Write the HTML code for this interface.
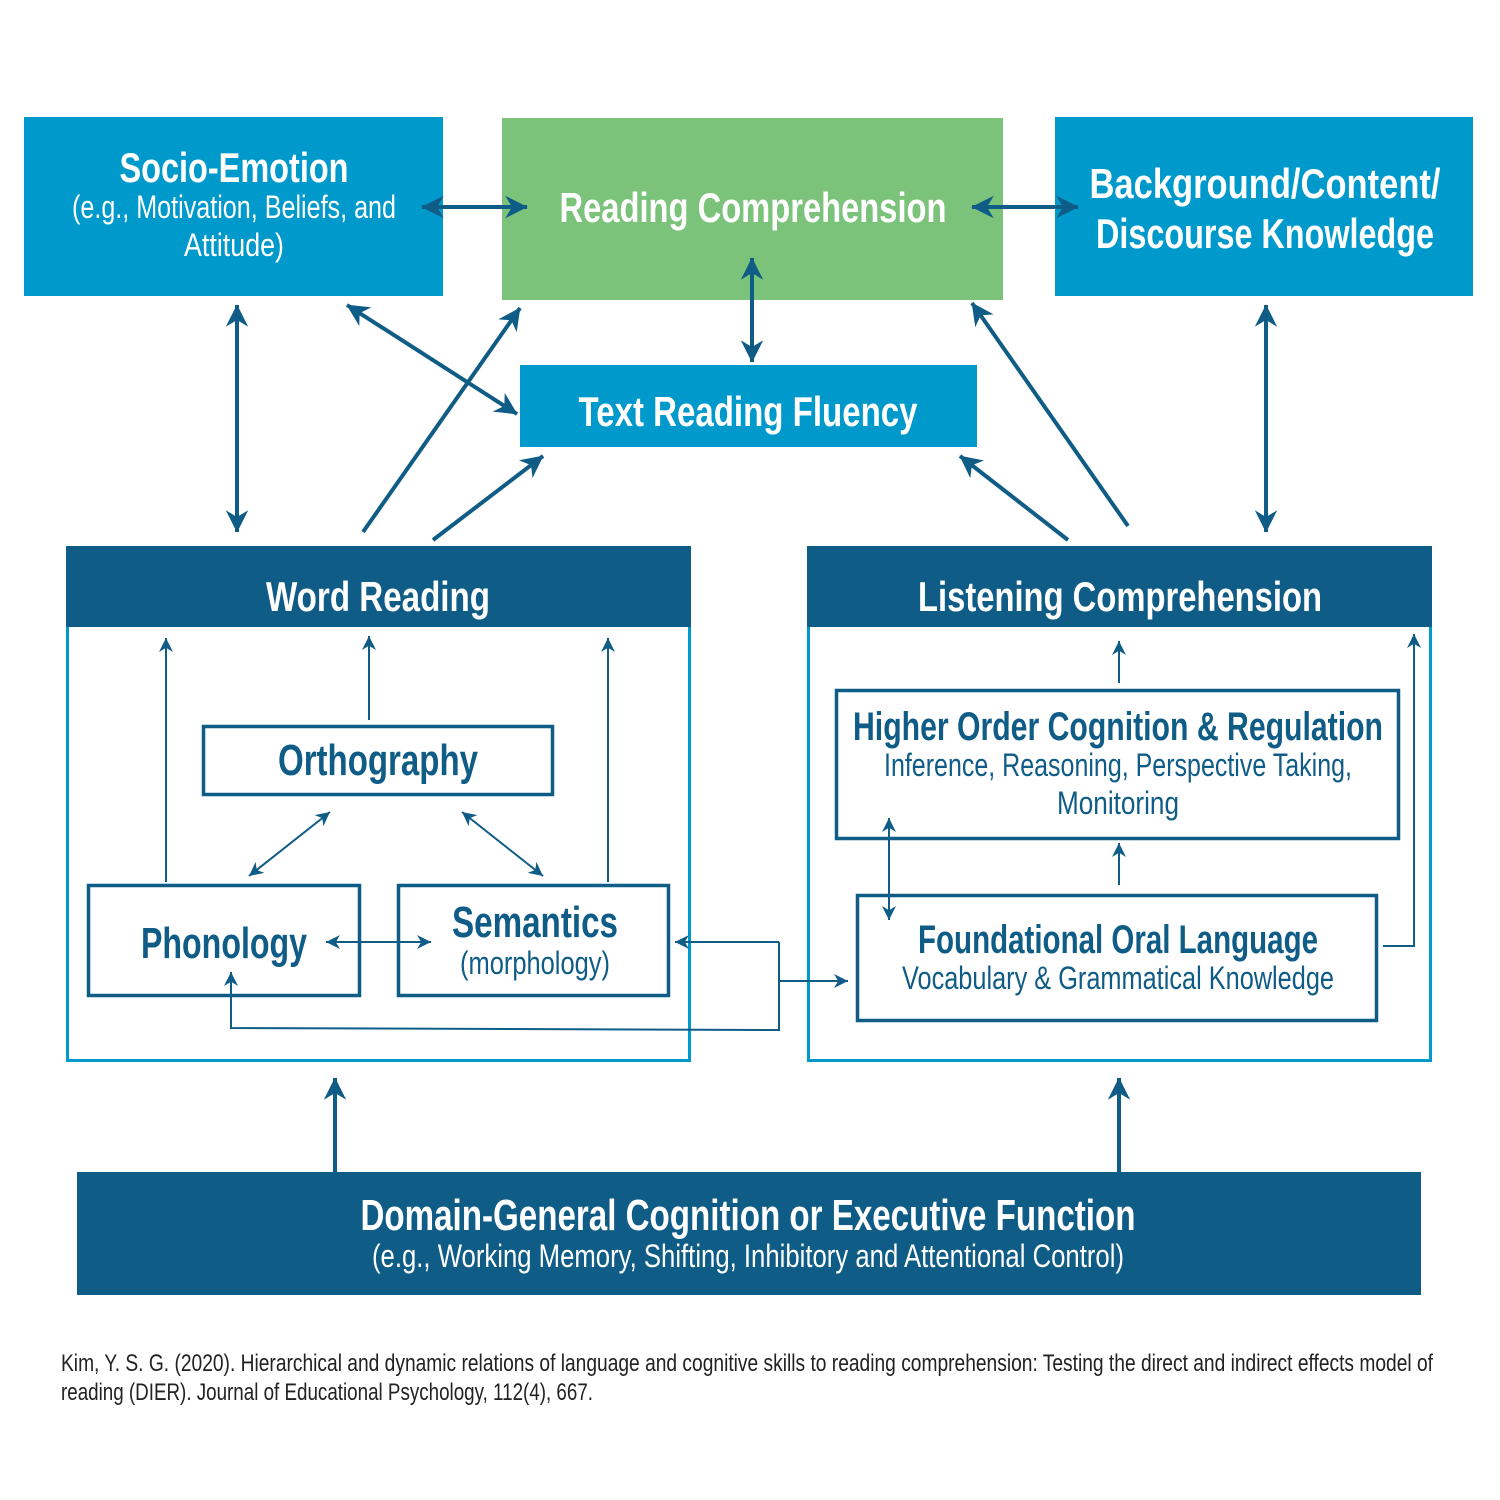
<!DOCTYPE html>
<html><head><meta charset="utf-8"><style>
html,body{margin:0;padding:0;background:#fff}
svg{display:block}
text{font-family:"Liberation Sans Narrow","Liberation Sans",sans-serif}
</style></head><body>
<svg width="1500" height="1500" viewBox="0 0 1500 1500" xmlns="http://www.w3.org/2000/svg">
<defs>
<marker id="A" viewBox="0 0 10 10" refX="9" refY="5" markerWidth="7" markerHeight="7" markerUnits="userSpaceOnUse" orient="auto-start-reverse" style="overflow:visible"><path d="M0,0 L10,5 L0,10 L3,5 z" fill="#0f5c87" transform="scale(3.2) translate(-6.9,-3.44)"/></marker>
<marker id="B" viewBox="0 0 10 10" refX="10" refY="5" markerWidth="14" markerHeight="14" markerUnits="userSpaceOnUse" orient="auto-start-reverse"><path d="M0,0 L10,5 L0,10 L3,5 z" fill="#0f5c87"/></marker>
</defs>
<g fill="#0099cc">
<rect x="24" y="117" width="419" height="179"/>
<rect x="1055" y="117" width="418" height="179"/>
<rect x="520" y="365" width="457" height="82"/>
</g>
<rect x="502" y="118" width="501" height="182" fill="#7bc27a"/>
<g fill="#fff">
<text x="234" y="182" font-size="42" font-weight="bold" text-anchor="middle" textLength="229" lengthAdjust="spacingAndGlyphs">Socio-Emotion</text>
<text x="234" y="218" font-size="32" text-anchor="middle" textLength="324" lengthAdjust="spacingAndGlyphs">(e.g., Motivation, Beliefs, and</text>
<text x="234" y="256" font-size="32" text-anchor="middle" textLength="100" lengthAdjust="spacingAndGlyphs">Attitude)</text>
<text x="753" y="222" font-size="42" font-weight="bold" text-anchor="middle" textLength="387" lengthAdjust="spacingAndGlyphs">Reading Comprehension</text>
<text x="1265" y="198" font-size="42" font-weight="bold" text-anchor="middle" textLength="351" lengthAdjust="spacingAndGlyphs">Background/Content/</text>
<text x="1265" y="248" font-size="42" font-weight="bold" text-anchor="middle" textLength="338" lengthAdjust="spacingAndGlyphs">Discourse Knowledge</text>
<text x="748" y="426" font-size="42" font-weight="bold" text-anchor="middle" textLength="339" lengthAdjust="spacingAndGlyphs">Text Reading Fluency</text>
</g>
<!-- Word Reading -->
<rect x="67.5" y="547.5" width="622" height="513" fill="none" stroke="#0099cc" stroke-width="3"/>
<rect x="66" y="546" width="625" height="81" fill="#0f5c87"/>
<text x="378" y="611" font-size="42" font-weight="bold" fill="#fff" text-anchor="middle" textLength="224" lengthAdjust="spacingAndGlyphs">Word Reading</text>
<rect x="808.5" y="547.5" width="622" height="513" fill="none" stroke="#0099cc" stroke-width="3"/>
<rect x="807" y="546" width="625" height="81" fill="#0f5c87"/>
<text x="1120" y="611" font-size="42" font-weight="bold" fill="#fff" text-anchor="middle" textLength="404" lengthAdjust="spacingAndGlyphs">Listening Comprehension</text>
<g fill="none" stroke="#0f5c87" stroke-width="3.5">
<rect x="203.5" y="726.5" width="349" height="68"/>
<rect x="88.5" y="885.5" width="271" height="110"/>
<rect x="398.5" y="885.5" width="270" height="110"/>
<rect x="836.5" y="690.5" width="562" height="148"/>
<rect x="857.5" y="895.5" width="519" height="125"/>
</g>
<g fill="#0f5c87">
<text x="378" y="775" font-size="44" font-weight="bold" text-anchor="middle" textLength="200" lengthAdjust="spacingAndGlyphs">Orthography</text>
<text x="224" y="958" font-size="44" font-weight="bold" text-anchor="middle" textLength="166" lengthAdjust="spacingAndGlyphs">Phonology</text>
<text x="535" y="937" font-size="44" font-weight="bold" text-anchor="middle" textLength="166" lengthAdjust="spacingAndGlyphs">Semantics</text>
<text x="535" y="974" font-size="32" text-anchor="middle" textLength="150" lengthAdjust="spacingAndGlyphs">(morphology)</text>
<text x="1118" y="740" font-size="40" font-weight="bold" text-anchor="middle" textLength="530" lengthAdjust="spacingAndGlyphs">Higher Order Cognition &amp; Regulation</text>
<text x="1118" y="776" font-size="32" text-anchor="middle" textLength="468" lengthAdjust="spacingAndGlyphs">Inference, Reasoning, Perspective Taking,</text>
<text x="1118" y="814" font-size="32" text-anchor="middle" textLength="122" lengthAdjust="spacingAndGlyphs">Monitoring</text>
<text x="1118" y="953" font-size="40" font-weight="bold" text-anchor="middle" textLength="400" lengthAdjust="spacingAndGlyphs">Foundational Oral Language</text>
<text x="1118" y="989" font-size="32" text-anchor="middle" textLength="432" lengthAdjust="spacingAndGlyphs">Vocabulary &amp; Grammatical Knowledge</text>
</g>
<rect x="77" y="1172" width="1344" height="123" fill="#0f5c87"/>
<text x="748" y="1230" font-size="44" font-weight="bold" fill="#fff" text-anchor="middle" textLength="775" lengthAdjust="spacingAndGlyphs">Domain-General Cognition or Executive Function</text>
<text x="748" y="1267" font-size="32" fill="#fff" text-anchor="middle" textLength="752" lengthAdjust="spacingAndGlyphs">(e.g., Working Memory, Shifting, Inhibitory and Attentional Control)</text>
<text x="61" y="1371" font-size="24" fill="#222" textLength="1372" lengthAdjust="spacingAndGlyphs">Kim, Y. S. G. (2020). Hierarchical and dynamic relations of language and cognitive skills to reading comprehension: Testing the direct and indirect effects model of</text>
<text x="61" y="1400" font-size="24" fill="#222" textLength="532" lengthAdjust="spacingAndGlyphs">reading (DIER). Journal of Educational Psychology, 112(4), 667.</text>
<!-- thick arrows -->
<g stroke="#0f5c87" stroke-width="4" fill="none" marker-end="url(#A)">
<line x1="422" y1="207" x2="527" y2="207" marker-start="url(#A)"/>
<line x1="972" y1="207" x2="1078" y2="207" marker-start="url(#A)"/>
<line x1="237" y1="305" x2="237" y2="532" marker-start="url(#A)"/>
<line x1="1266" y1="305" x2="1266" y2="532" marker-start="url(#A)"/>
<line x1="752" y1="258" x2="752" y2="362" marker-start="url(#A)"/>
<line x1="347" y1="305" x2="517" y2="414" marker-start="url(#A)"/>
<line x1="363" y1="532" x2="520" y2="308"/>
<line x1="433" y1="540" x2="543" y2="456"/>
<line x1="1128" y1="526" x2="972" y2="303"/>
<line x1="1068" y1="540" x2="960" y2="456"/>
<line x1="335" y1="1172" x2="335" y2="1078"/>
<line x1="1119" y1="1172" x2="1119" y2="1078"/>
</g>
<!-- thin arrows -->
<g stroke="#0f5c87" stroke-width="2" fill="none" marker-end="url(#B)">
<line x1="166" y1="882" x2="166" y2="638"/>
<line x1="369" y1="720" x2="369" y2="636"/>
<line x1="608" y1="882" x2="608" y2="638"/>
<line x1="249" y1="876" x2="330" y2="812" marker-start="url(#B)"/>
<line x1="462" y1="812" x2="543" y2="876" marker-start="url(#B)"/>
<line x1="326" y1="942" x2="431" y2="942" marker-start="url(#B)"/>
<polyline points="779,942 675,942"/>
<polyline points="779,942 779,1030 231,1028 231,972"/>
<polyline points="779,981 848,981"/>
<polyline points="1383,946 1414,946 1414,634"/>
<line x1="1119" y1="885" x2="1119" y2="843"/>
<line x1="1119" y1="683" x2="1119" y2="641"/>
<line x1="889" y1="818" x2="889" y2="920" marker-start="url(#B)"/>
</g>
</svg>
</body></html>
